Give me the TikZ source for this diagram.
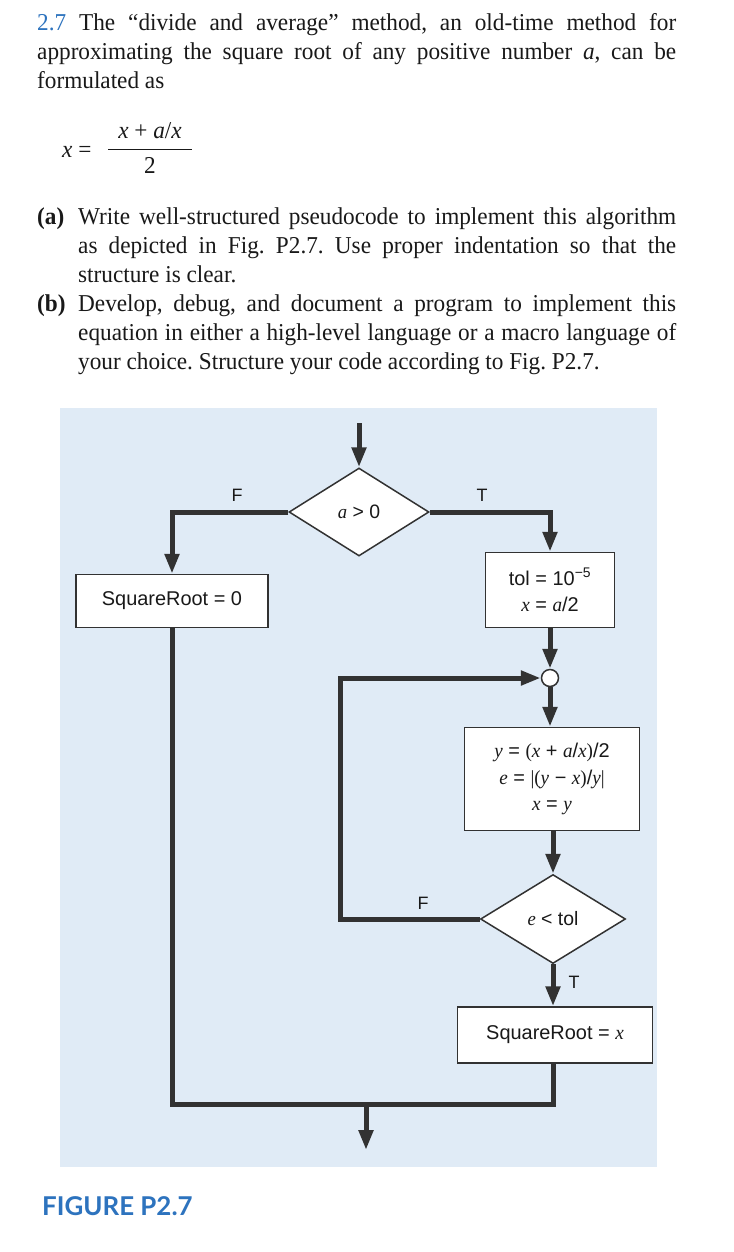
\documentclass[tikz,border=0pt]{standalone}
\usepackage{fontspec}
\setmainfont{Liberation Serif}[FakeStretch=0.96]
\setsansfont{Liberation Sans}
\newfontfamily\figfont{Lato}
\usetikzlibrary{arrows.meta,shapes.geometric}
\definecolor{panel}{RGB}{224,235,246}
\definecolor{ink}{RGB}{50,50,50}
\definecolor{bluenum}{RGB}{45,115,190}
\definecolor{txt}{RGB}{25,25,25}
\newcommand{\mv}[1]{{\rmfamily\itshape #1}}
\newcommand{\rp}[1]{{\rmfamily #1}}
\frenchspacing
\begin{document}
\begin{tikzpicture}[x=1bp,y=-1bp,
  flow/.style={line width=5bp, draw=ink, -{Triangle[length=20bp,width=14bp]}},
  wire/.style={line width=5bp, draw=ink},
  box/.style={draw=ink, line width=1.5bp, fill=white, inner sep=0pt, text=txt,
    font=\sffamily\fontsize{20}{27}\selectfont, align=center},
  dec/.style={diamond, draw=ink, line width=1.5bp, fill=white, inner sep=0pt, text=txt,
    font=\sffamily\fontsize{19.5}{22}\selectfont},
  lbl/.style={font=\sffamily\fontsize{18}{20}\selectfont, text=txt, inner sep=0pt},
  body/.style={anchor=base west, inner sep=0pt, text=txt, font=\fontsize{24.3}{29}\selectfont},
  junction/.style={circle, draw=ink, line width=1.5bp, fill=white, minimum size=17bp, inner sep=0pt}
]
\useasboundingbox (0,0) rectangle (734,1252);
\fill[white] (0,0) rectangle (734,1252);

% problem text
\node[body] (l1) at (37,30) {\makebox[639bp][s]{\textcolor{bluenum}{2.7} The “divide and average” method, an old-time method for}};
\node[body] (l2) at (37,59) {\makebox[639bp][s]{approximating the square root of any positive number \textit{a}, can be}};
\node[body] (l3) at (37,88) {formulated as};

% formula
\node[body] (fx) at (62,157) {\textit{x} =};
\node[body, anchor=base] (fnum) at (150,138) {\textit{x} + \textit{a}/\textit{x}};
\node[body, anchor=base] (fden) at (150,173) {2};
\draw[txt, line width=1bp] (108,149) -- (192,149);

% (a)
\node[body] (pa) at (37,224) {\textbf{(a)}};
\node[body] (a1) at (78,224) {\makebox[598bp][s]{Write well-structured pseudocode to implement this algorithm}};
\node[body] (a2) at (78,253) {\makebox[598bp][s]{as depicted in Fig. P2.7. Use proper indentation so that the}};
\node[body] (a3) at (78,282) {structure is clear.};
% (b)
\node[body] (pb) at (37,311) {\textbf{(b)}};
\node[body] (b1) at (78,311) {\makebox[598bp][s]{Develop, debug, and document a program to implement this}};
\node[body] (b2) at (78,340) {\makebox[598bp][s]{equation in either a high-level language or a macro language of}};
\node[body] (b3) at (78,369) {your choice. Structure your code according to Fig. P2.7.};

% panel
\fill[panel] (60,408) rectangle (657,1167);

% flowchart nodes
\coordinate (start) at (359,423);
\node[dec, minimum width=140bp, minimum height=88bp] (d1) at (359,512) {\mv{a} > 0};
\node[box, minimum width=192bp, minimum height=53bp] (b0) at (172,601) {SquareRoot = 0};
\node[box, minimum width=129bp, minimum height=75bp] (tb) at (550,590) {tol = 10\textsuperscript{−5}\\\mv{x} = \mv{a}/2};
\node[junction] (jc) at (550,678) {};
\node[box, minimum width=175bp, minimum height=103bp] (yb) at (552,779) {\mv{y} = \rp{(}\mv{x} + \mv{a}/\mv{x}\rp{)}/2\\\mv{e} = \rp{|(}\mv{y} − \mv{x}\rp{)}/\mv{y}\rp{|}\\\mv{x} = \mv{y}};
\node[dec, minimum width=145bp, minimum height=89bp] (d2) at (553,919) {\mv{e} < tol};
\node[box, minimum width=195bp, minimum height=56bp] (fb) at (555,1035) {SquareRoot = \mv{x}};
\coordinate (lt) at (340,678);
\coordinate (bl) at (172,1104);
\coordinate (bm) at (366,1102);
\coordinate (endp) at (366,1150);

% labels
\node[lbl] (f1) at (237,495) {F};
\node[lbl] (t1) at (482,495) {T};
\node[lbl] (f2) at (423,903) {F};
\node[lbl] (t2) at (574,982) {T};

% connectors
\draw[flow] (start) -- (d1.north);
\draw[flow] (d1.west) -| (b0.north);
\draw[flow] (d1.east) -| (tb.north);
\draw[flow] (tb.south) -- (jc.north);
\draw[flow] (jc.south) -- (yb.north -| jc.south);
\draw[flow] (yb.south -| d2.north) -- (d2.north);
\draw[flow] (d2.west) -| (lt) -- (jc.west);
\draw[flow] (d2.south) -- (fb.north -| d2.south);
\draw[wire] (fb.south -| d2.south) |- (bl) -- (b0.south);
\draw[flow] (bm) -- (endp);

% caption
\node[anchor=base west, inner sep=0pt, text=bluenum, font=\figfont\bfseries\fontsize{26}{30}\selectfont] (cap) at (42,1215) {FIGURE P2.7};
\end{tikzpicture}
\end{document}
